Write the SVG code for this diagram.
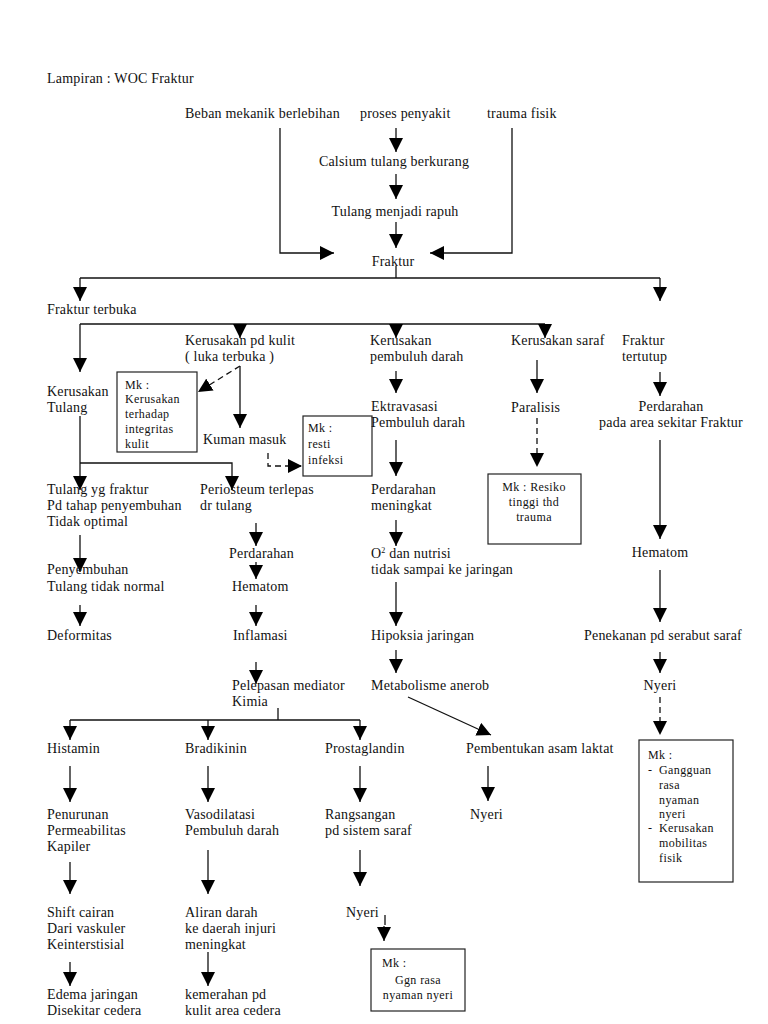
<svg xmlns="http://www.w3.org/2000/svg" width="768" height="1024" viewBox="0 0 768 1024">
<style>
text{font-family:"Liberation Serif","Times New Roman",serif;font-size:14px;letter-spacing:0.2px;fill:#111}
.s{font-size:12px;letter-spacing:0.4px}
.c{text-anchor:middle}
.ln{stroke:#111;stroke-width:1.3;fill:none}
.d{stroke-dasharray:6,4}
.bx{fill:#fff;stroke:#222;stroke-width:1.2}
</style>
<defs>
<marker id="ah" markerUnits="userSpaceOnUse" markerWidth="16" markerHeight="14" refX="14" refY="7" orient="auto">
<path d="M0,0 L14,7 L0,14 z" fill="#000"/>
</marker>
</defs>
<rect width="768" height="1024" fill="#fff"/>
<text x="47" y="83">Lampiran : WOC Fraktur</text>

<g id="connectors">
<path class="ln" d="M280,128 V253 H334" marker-end="url(#ah)"/>
<path class="ln" d="M512,128 V253 H430" marker-end="url(#ah)"/>
<path class="ln" d="M396,128 V152" marker-end="url(#ah)"/>
<path class="ln" d="M396,174 V199" marker-end="url(#ah)"/>
<path class="ln" d="M396,222 V248" marker-end="url(#ah)"/>
<path class="ln" d="M396,266 V278"/>
<path class="ln" d="M80,278 H660"/>
<path class="ln" d="M80,278 V301" marker-end="url(#ah)"/>
<path class="ln" d="M660,278 V301" marker-end="url(#ah)"/>
<path class="ln" d="M80,324 H545"/>
<path class="ln" d="M80,324 V372" marker-end="url(#ah)"/>
<path class="ln" d="M240,324 V338" marker-end="url(#ah)"/>
<path class="ln" d="M396,324 V338" marker-end="url(#ah)"/>
<path class="ln" d="M545,324 V338" marker-end="url(#ah)"/>
<path class="ln d" d="M240,366 L198,392" marker-end="url(#ah)"/>
<path class="ln" d="M240,366 V428" marker-end="url(#ah)"/>
<path class="ln d" d="M268,453 V466 H302" marker-end="url(#ah)"/>
<path class="ln" d="M80,416 V490" marker-end="url(#ah)"/>
<path class="ln" d="M80,463 H232 V490" marker-end="url(#ah)"/>
<path class="ln" d="M80,535 V572" marker-end="url(#ah)"/>
<path class="ln" d="M80,605 V626" marker-end="url(#ah)"/>
<path class="ln" d="M256,523 V546" marker-end="url(#ah)"/>
<path class="ln" d="M256,562 V579" marker-end="url(#ah)"/>
<path class="ln" d="M256,605 V626" marker-end="url(#ah)"/>
<path class="ln" d="M256,662 V684" marker-end="url(#ah)"/>
<path class="ln" d="M278,708 V720"/>
<path class="ln" d="M70,720 H360"/>
<path class="ln" d="M70,720 V740" marker-end="url(#ah)"/>
<path class="ln" d="M208,720 V740" marker-end="url(#ah)"/>
<path class="ln" d="M360,720 V740" marker-end="url(#ah)"/>
<path class="ln" d="M70,766 V802" marker-end="url(#ah)"/>
<path class="ln" d="M208,766 V802" marker-end="url(#ah)"/>
<path class="ln" d="M360,766 V802" marker-end="url(#ah)"/>
<path class="ln" d="M70,862 V894" marker-end="url(#ah)"/>
<path class="ln" d="M208,850 V894" marker-end="url(#ah)"/>
<path class="ln" d="M360,850 V886" marker-end="url(#ah)"/>
<path class="ln" d="M385,915 V925"/>
<path class="ln" d="M384,926 V941" marker-end="url(#ah)"/>
<path class="ln" d="M70,962 V986" marker-end="url(#ah)"/>
<path class="ln" d="M208,952 V986" marker-end="url(#ah)"/>
<path class="ln" d="M396,371 V393" marker-end="url(#ah)"/>
<path class="ln" d="M396,440 V476" marker-end="url(#ah)"/>
<path class="ln" d="M396,520 V546" marker-end="url(#ah)"/>
<path class="ln" d="M396,582 V626" marker-end="url(#ah)"/>
<path class="ln" d="M396,650 V673" marker-end="url(#ah)"/>
<path class="ln" d="M408,697 L491,735" marker-end="url(#ah)"/>
<path class="ln" d="M488,766 V801" marker-end="url(#ah)"/>
<path class="ln" d="M537,360 V393" marker-end="url(#ah)"/>
<path class="ln d" d="M537,418 V467" marker-end="url(#ah)"/>
<path class="ln" d="M660,372 V396" marker-end="url(#ah)"/>
<path class="ln" d="M660,440 V539" marker-end="url(#ah)"/>
<path class="ln" d="M660,570 V622" marker-end="url(#ah)"/>
<path class="ln" d="M660,652 V673" marker-end="url(#ah)"/>
<path class="ln d" d="M660,697 V735" marker-end="url(#ah)"/>
</g>

<g id="n-beban"><text x="185" y="118">Beban mekanik berlebihan</text></g>
<g id="n-proses"><text x="360" y="118">proses penyakit</text></g>
<g id="n-trauma"><text x="487" y="118">trauma fisik</text></g>
<g id="n-calsium"><text x="394" y="166" class="c">Calsium tulang berkurang</text></g>
<g id="n-rapuh"><text x="395" y="216" class="c">Tulang menjadi rapuh</text></g>
<g id="n-fraktur"><text x="393" y="266" class="c">Fraktur</text></g>
<g id="n-terbuka"><text x="47" y="314">Fraktur terbuka</text></g>
<g id="n-kulit"><text x="185" y="345">Kerusakan pd kulit</text><text x="185" y="361">( luka terbuka )</text></g>
<g id="n-tulang"><text x="47" y="396">Kerusakan</text><text x="47" y="412">Tulang</text></g>
<g id="n-mk1"><rect class="bx" x="117" y="372" width="80" height="80"/>
<text class="s" x="125" y="389">Mk :</text><text class="s" x="125" y="403">Kerusakan</text><text class="s" x="125" y="418">terhadap</text><text class="s" x="125" y="433">integritas</text><text class="s" x="125" y="448">kulit</text></g>
<g id="n-kuman"><text x="203" y="444">Kuman masuk</text></g>
<g id="n-mk2"><rect class="bx" x="303" y="416" width="69" height="60"/>
<text class="s" x="308" y="432">Mk :</text><text class="s" x="308" y="448">resti</text><text class="s" x="308" y="464">infeksi</text></g>
<g id="n-pembuluh"><text x="370" y="345">Kerusakan</text><text x="370" y="361">pembuluh darah</text></g>
<g id="n-ektra"><text x="371" y="411">Ektravasasi</text><text x="371" y="427">Pembuluh darah</text></g>
<g id="n-perdmen"><text x="371" y="494">Perdarahan</text><text x="371" y="510">meningkat</text></g>
<g id="n-o2"><text x="371" y="558">O<tspan font-size="8" dy="-5">2</tspan><tspan dy="5"> dan nutrisi</tspan></text><text x="371" y="574">tidak sampai ke jaringan</text></g>
<g id="n-hipoksia"><text x="371" y="640">Hipoksia jaringan</text></g>
<g id="n-metab"><text x="371" y="690">Metabolisme anerob</text></g>
<g id="n-laktat"><text x="466" y="753">Pembentukan asam laktat</text></g>
<g id="n-nyeri2"><text x="470" y="819">Nyeri</text></g>
<g id="n-saraf"><text x="511" y="345">Kerusakan saraf</text></g>
<g id="n-paralisis"><text x="511" y="412">Paralisis</text></g>
<g id="n-mk3"><rect class="bx" x="488" y="474" width="93" height="70"/>
<text class="s c" x="534" y="491">Mk : Resiko</text><text class="s c" x="534" y="506">tinggi thd</text><text class="s c" x="534" y="521">trauma</text></g>
<g id="n-tertutup"><text x="622" y="345">Fraktur</text><text x="622" y="361">tertutup</text></g>
<g id="n-perdarea"><text x="671" y="411" class="c">Perdarahan</text><text x="671" y="427" class="c">pada area sekitar Fraktur</text></g>
<g id="n-hematom2"><text x="660" y="557" class="c">Hematom</text></g>
<g id="n-penekanan"><text x="663" y="640" class="c">Penekanan pd serabut saraf</text></g>
<g id="n-nyeri3"><text x="660" y="690" class="c">Nyeri</text></g>
<g id="n-mk4"><rect class="bx" x="639" y="740" width="94" height="142"/>
<text class="s" x="648" y="759">Mk :</text>
<text class="s" x="648" y="774">-</text><text class="s" x="659" y="774">Gangguan</text>
<text class="s" x="659" y="789">rasa</text><text class="s" x="659" y="804">nyaman</text><text class="s" x="659" y="818">nyeri</text>
<text class="s" x="648" y="832">-</text><text class="s" x="659" y="832">Kerusakan</text>
<text class="s" x="659" y="847">mobilitas</text><text class="s" x="659" y="862">fisik</text></g>
<g id="n-tulangyg"><text x="47" y="494">Tulang yg fraktur</text><text x="47" y="510">Pd tahap penyembuhan</text><text x="47" y="526">Tidak optimal</text></g>
<g id="n-penyem"><text x="47" y="574">Penyembuhan</text><text x="47" y="591">Tulang tidak normal</text></g>
<g id="n-deform"><text x="47" y="640">Deformitas</text></g>
<g id="n-perios"><text x="200" y="494">Periosteum terlepas</text><text x="200" y="510">dr tulang</text></g>
<g id="n-perd1"><text x="229" y="558">Perdarahan</text></g>
<g id="n-hematom1"><text x="232" y="591">Hematom</text></g>
<g id="n-inflamasi"><text x="233" y="640">Inflamasi</text></g>
<g id="n-pelepasan"><text x="232" y="690">Pelepasan mediator</text><text x="232" y="706">Kimia</text></g>
<g id="n-histamin"><text x="47" y="753">Histamin</text></g>
<g id="n-bradikinin"><text x="185" y="753">Bradikinin</text></g>
<g id="n-prosta"><text x="325" y="753">Prostaglandin</text></g>
<g id="n-penurunan"><text x="47" y="819">Penurunan</text><text x="47" y="835">Permeabilitas</text><text x="47" y="851">Kapiler</text></g>
<g id="n-vaso"><text x="185" y="819">Vasodilatasi</text><text x="185" y="835">Pembuluh darah</text></g>
<g id="n-rangs"><text x="325" y="819">Rangsangan</text><text x="325" y="835">pd sistem saraf</text></g>
<g id="n-shift"><text x="47" y="917">Shift cairan</text><text x="47" y="933">Dari vaskuler</text><text x="47" y="949">Keinterstisial</text></g>
<g id="n-aliran"><text x="185" y="917">Aliran darah</text><text x="185" y="933">ke daerah injuri</text><text x="185" y="949">meningkat</text></g>
<g id="n-nyeri1"><text x="346" y="917">Nyeri</text></g>
<g id="n-mk5"><rect class="bx" x="371" y="949" width="94" height="62"/>
<text class="s" x="382" y="967">Mk :</text><text class="s c" x="418" y="984">Ggn rasa</text><text class="s c" x="418" y="999">nyaman nyeri</text></g>
<g id="n-edema"><text x="47" y="999">Edema jaringan</text><text x="47" y="1015">Disekitar cedera</text></g>
<g id="n-kemerahan"><text x="185" y="999">kemerahan pd</text><text x="185" y="1015">kulit area cedera</text></g>
</svg>
